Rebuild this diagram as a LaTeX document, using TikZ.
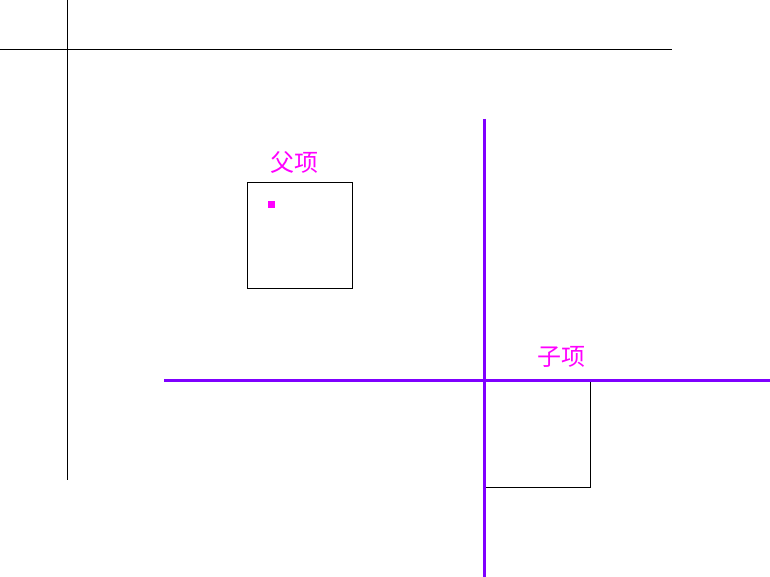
\documentclass[tikz,border=0pt]{standalone}
\usepackage{fontspec}
\newfontfamily\cjk{Noto Sans CJK SC}
\definecolor{violetline}{HTML}{7F00FF}
\definecolor{mag}{HTML}{FF00FF}
\begin{document}
\begin{tikzpicture}[x=1pt,y=-1pt,
  thinline/.style={draw=black,line width=1pt},
  axisline/.style={draw=violetline,line width=3pt},
  box/.style={draw=black,line width=1pt,fill=none},
  lbl/.style={text=mag,font=\cjk\fontsize{24}{24}\selectfont,inner sep=0pt}]
\useasboundingbox (0,0) rectangle (770,577);
% black axes
\coordinate (vt) at (67,0);
\coordinate (vb) at (67,480);
\coordinate (hl) at (0,50);
\coordinate (hr) at (672,50);
\draw[thinline] (vt) -- (vb);
\draw[thinline] (hl) -- (hr);
% parent box
\draw[box] (247,183) rectangle (352,288);
\fill[mag] (268,201) rectangle (275,208);
\node[lbl] (parent) at (294,163) {父项};
% purple axes
\coordinate (pvt) at (484,119);
\coordinate (pvb) at (484,577);
\coordinate (phl) at (164,380);
\coordinate (phr) at (770,380);
% child box
\draw[box] (484,381) rectangle (590,487);
\draw[axisline] (pvt) -- (pvb);
\draw[axisline] (phl) -- (phr);
\node[lbl] (child) at (561,357) {子项};
\end{tikzpicture}
\end{document}
